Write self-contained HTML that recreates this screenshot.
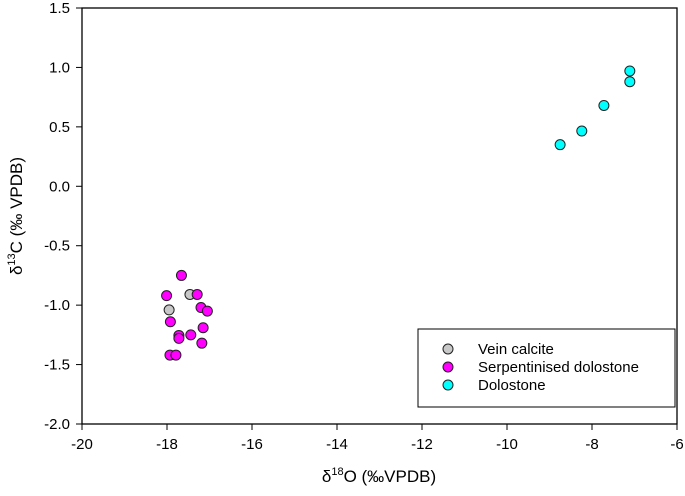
<!DOCTYPE html>
<html><head><meta charset="utf-8"><style>
body{margin:0;background:#fff;}
svg{display:block;font-family:"Liberation Sans",Arial,sans-serif;}
</style></head><body>
<svg id="chart" width="685" height="496">
<g id="axes"></g>
<g id="marks"></g>
<text x="379" y="482" text-anchor="middle" font-size="17">δ<tspan font-size="11" dy="-7">18</tspan><tspan dy="7">O (‰VPDB)</tspan></text>
<text transform="translate(22,216) rotate(-90)" text-anchor="middle" font-size="17">δ<tspan font-size="11" dy="-7">13</tspan><tspan dy="7">C (‰ VPDB)</tspan></text>
<g>
<rect x="418" y="329" width="257" height="78" fill="#fff" stroke="#000" stroke-width="1"/>
<circle cx="448" cy="349" r="5" fill="#c8c8c8" stroke="#222"/>
<text x="478" y="354" font-size="15">Vein calcite</text>
<circle cx="448" cy="367" r="5" fill="#ff00ff" stroke="#222"/>
<text x="478" y="372" font-size="15">Serpentinised dolostone</text>
<circle cx="448" cy="385" r="5" fill="#00ffff" stroke="#222"/>
<text x="478" y="390" font-size="15">Dolostone</text>
</g>
</svg>
<script>
const xTicks=[-20,-18,-16,-14,-12,-10,-8,-6];
const yTicks=[1.5,1.0,0.5,0.0,-0.5,-1.0,-1.5,-2.0];
const veinX=[-17.46,-17.95];
const veinY=[-0.91,-1.04];
const serpX=[-17.66,-18.01,-17.29,-17.2,-17.05,-17.92,-17.15,-17.72,-17.72,-17.44,-17.18,-17.93,-17.79];
const serpY=[-0.75,-0.92,-0.91,-1.02,-1.05,-1.14,-1.19,-1.255,-1.28,-1.25,-1.32,-1.42,-1.42];
const doloX=[-7.11,-7.11,-7.72,-8.24,-8.75];
const doloY=[0.97,0.88,0.68,0.465,0.35];
const L=82,R=677,T=8,B=424;
const sx=v=>L+(v+20)/14*(R-L);
const sy=v=>T+(1.5-v)/3.5*(B-T);
const NS="http://www.w3.org/2000/svg";
function mk(tag,attrs,parent){const e=document.createElementNS(NS,tag);for(const k in attrs)e.setAttribute(k,attrs[k]);parent.appendChild(e);return e;}
const ax=document.getElementById('axes');
const frame=mk('rect',{x:L,y:T,width:R-L,height:B-T,fill:'none',stroke:'#000','stroke-width':1.3},ax);


xTicks.forEach(t=>{
 const x=sx(t);
 const ln=mk('line',{x1:x,x2:x,y1:B,y2:B+6,stroke:'#000'},ax);
 
 
 const tx=mk('text',{x:x,y:B+25,'text-anchor':'middle','font-size':15},ax);
 tx.textContent=t;
 
 
});
yTicks.forEach(t=>{
 const y=sy(t);
 const ln=mk('line',{x1:L-6,x2:L,y1:y,y2:y,stroke:'#000'},ax);
 
 
 const tx=mk('text',{x:L-12,y:y+5,'text-anchor':'end','font-size':15},ax);
 tx.textContent=t.toFixed(1);
 
 
});
const mg=document.getElementById('marks');
function series(xs,ys,fill,name){xs.forEach((v,i)=>{
 const c=mk('circle',{cx:sx(v),cy:sy(ys[i]),r:5,fill:fill,stroke:'#222','stroke-width':1},mg);
 
 
});}
series(veinX,veinY,'#c8c8c8','vein-calcite-point');
series(serpX,serpY,'#ff00ff','serpentinised-dolostone-point');
series(doloX,doloY,'#00ffff','dolostone-point');
</script>
</body></html>
